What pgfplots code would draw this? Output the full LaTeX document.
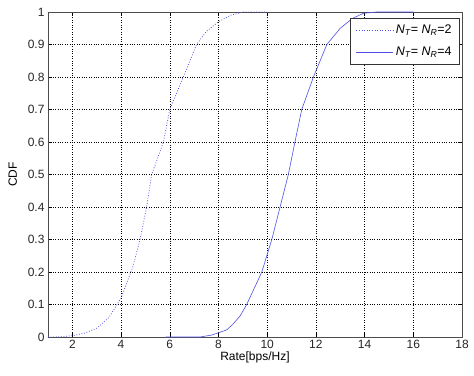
\documentclass[border=0pt]{standalone}
\usepackage{pgfplots}
\pgfplotsset{compat=1.18}
\usepackage{fontspec}
\setmainfont{Liberation Sans}
\definecolor{lineblue}{RGB}{80,80,230}
\begin{document}
\begin{tikzpicture}
\begin{axis}[
  scale only axis,
  width=414pt, height=325pt,
  xmin=1, xmax=18, ymin=0, ymax=1,
  xtick={2,4,...,18},
  ytick={0,0.1,...,1},
  yticklabels={0,0.1,0.2,0.3,0.4,0.5,0.6,0.7,0.8,0.9,1},
  tick align=inside,
  major tick length=4pt,
  tick style={black, line width=0.4pt},
  axis line style={black!70, line width=0.6pt},
  grid=major,
  major grid style={black, dotted, line width=0.5pt},
  /pgf/number format/assume math mode=true,
  tick label style={font=\fontsize{12}{14}\selectfont, text=black!85},
  xlabel={Rate[bps/Hz]}, ylabel={CDF},
  label style={font=\fontsize{12}{14}\selectfont},
  xlabel style={yshift=4pt},
  ylabel style={yshift=4pt},
  legend style={at={(rel axis cs:0.995,0.982)}, anchor=north east,
    font=\fontsize{12.5}{15}\selectfont, draw=black!80, line width=0.6pt,
    row sep=8pt, inner xsep=6pt, inner ysep=5pt},
  legend cell align=left,
  legend image code/.code={\draw[#1] (0cm,0cm) -- (1.3cm,0cm);},
]
\addplot[lineblue, dash pattern=on 0.8pt off 1.8pt, line width=0.8pt] coordinates {
(1,0) (1.5,0.0005) (2,0.004) (2.5,0.012) (3,0.027) (3.5,0.06) (4,0.12)
(4.5,0.22) (4.78,0.30) (5.05,0.40) (5.26,0.50) (5.5,0.55) (5.74,0.60)
(6.0,0.70) (6.5,0.79) (7.1,0.90) (7.5,0.94) (8.0,0.97) (8.5,0.99) (9,1.0) (10,1.0)
};
\addlegendentry{\textit{N\textsubscript{T}}= \textit{N\textsubscript{R}}=2}
\addplot[lineblue, line width=0.6pt] coordinates {
(5.83,0) (7.24,0) (7.72,0.006) (8.0,0.013) (8.34,0.022) (8.6,0.04) (8.89,0.065)
(9.16,0.10) (9.5,0.155) (9.78,0.20) (10.19,0.30) (10.53,0.40) (10.87,0.50)
(11.14,0.60) (11.42,0.70) (11.9,0.80) (12.45,0.90) (13.0,0.95) (13.5,0.98)
(13.95,0.996) (14.5,1.0) (16,1.0)
};
\addlegendentry{\textit{N\textsubscript{T}}= \textit{N\textsubscript{R}}=4}
\end{axis}
\path (current axis.south west) ++(-48pt,-38pt) coordinate (bl);
\path (current axis.north east) ++(12pt,12pt) coordinate (tr);
\useasboundingbox (bl) rectangle (tr);
\end{tikzpicture}
\end{document}
